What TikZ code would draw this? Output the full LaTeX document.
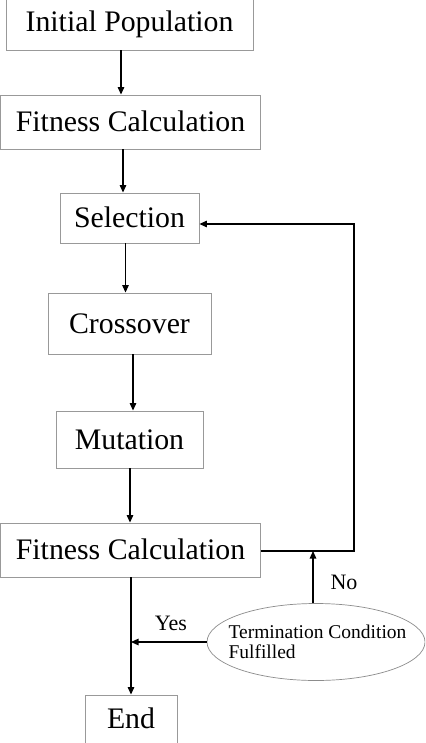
\documentclass[tikz,border=0pt]{standalone}
\usepackage{fontspec}
\setmainfont{Liberation Serif}
\usetikzlibrary{arrows.meta,shapes.geometric}
\begin{document}
\begin{tikzpicture}[x=1pt,y=-1pt,
  box/.style={draw=black!40,line width=0.9pt,rectangle,inner sep=0pt,
    font=\fontsize{29.8}{32}\selectfont,text height=19.7pt,text depth=0pt},
  arr/.style={line width=1.2pt,-{Triangle[length=7.5pt,width=6.5pt]}},
  lbl/.style={font=\fontsize{22}{24}\selectfont,inner sep=0pt,text height=14.5pt,text depth=0pt}]
\clip (0,0) rectangle (425,743);
\fill[white] (0,0) rectangle (425,743);
\node[box,minimum width=247pt,minimum height=56pt] (b1) at (129.5,22) {Initial Population};
\node[box,minimum width=260pt,minimum height=54pt] (b2) at (130.5,122) {Fitness Calculation};
\node[box,minimum width=139pt,minimum height=50pt] (b3) at (129.5,218) {Selection};
\node[box,minimum width=163pt,minimum height=61pt] (b4) at (129.5,323.5) {Crossover};
\node[box,minimum width=147pt,minimum height=57pt] (b5) at (129.5,439.5) {Mutation};
\node[box,minimum width=260pt,minimum height=54pt] (b6) at (130.5,550) {Fitness Calculation};
\node[box,minimum width=92pt,minimum height=48pt] (b7) at (131,719) {End};
\node[draw=black!45,line width=0.7pt,ellipse,inner sep=0pt,minimum width=218pt,minimum height=77pt] (ell) at (316,642) {};
\node[align=left,inner sep=0pt,font=\fontsize{19.5}{20.5}\selectfont] (elltext) at (317.5,642) {Termination Condition\\Fulfilled};
\coordinate (fb) at (354,551);
\coordinate (fbtop) at (354,224);
\coordinate (noend) at (313,551);
\coordinate (yesend) at (131,642);
\draw[arr] ([xshift=-8.5pt]b1.south) -- ([xshift=-9.5pt]b2.north);
\draw[arr] ([xshift=-7.5pt]b2.south) -- ([xshift=-6.5pt]b3.north);
\draw[arr] ([xshift=-4pt]b3.south) -- ([xshift=-4pt]b4.north);
\draw[arr] ([xshift=3.5pt]b4.south) -- ([xshift=3.5pt]b5.north);
\draw[arr] ([xshift=0.5pt]b5.south) -- ([xshift=-0.5pt]b6.north);
\draw[arr] ([xshift=0.5pt]b6.south) -- (b7.north);
\draw[arr] (b6.east |- fb) -- (fb) -- (fbtop) -- (b3.east |- fbtop);
\draw[arr] ([xshift=-3pt]ell.north) -- (noend);
\draw[arr] (ell.west) -- (yesend);
\node[lbl] (no) at (344,582) {No};
\node[lbl] (yes) at (171,623) {Yes};
\end{tikzpicture}
\end{document}
